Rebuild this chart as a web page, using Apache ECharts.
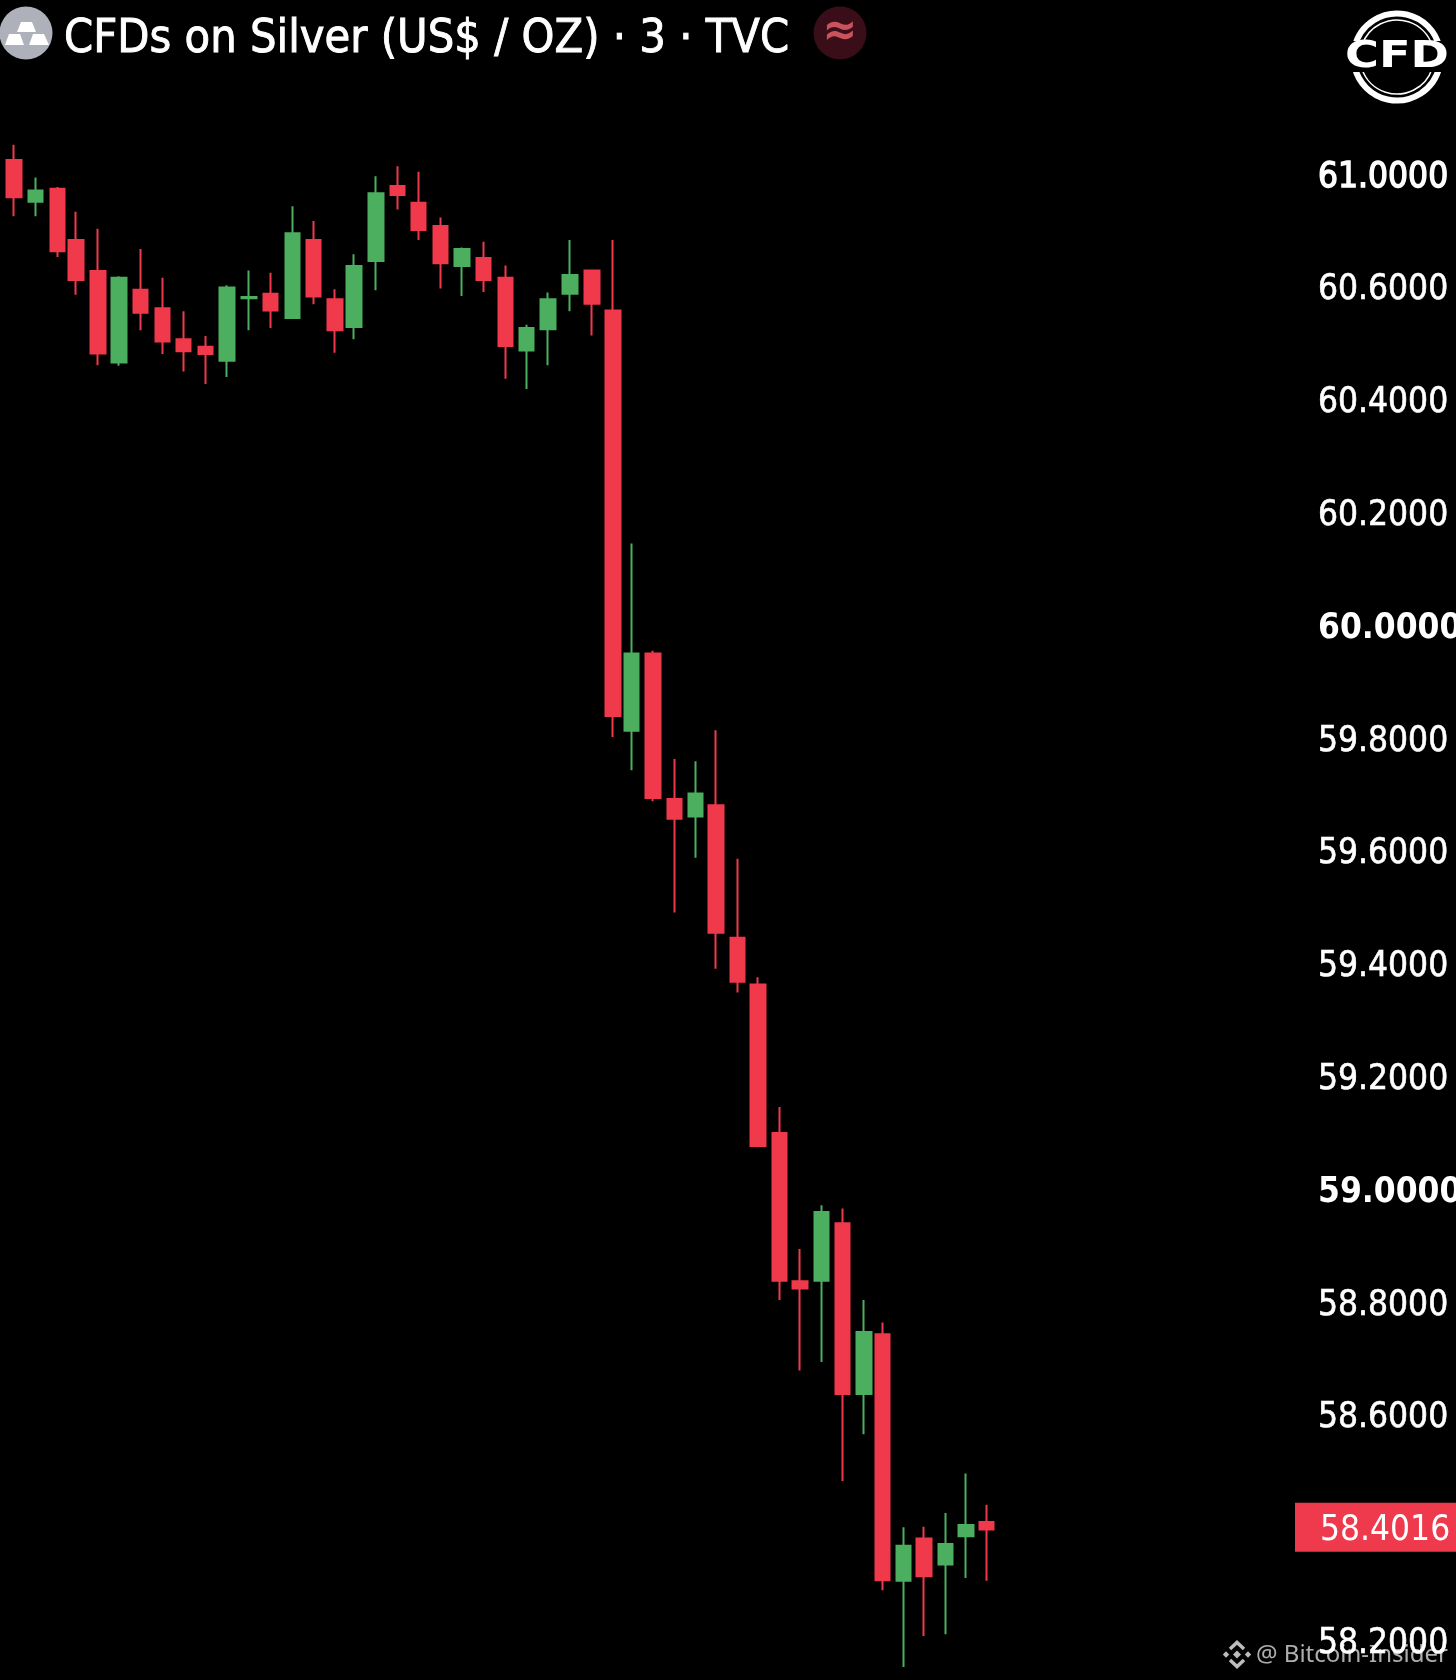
<!DOCTYPE html>
<html><head><meta charset="utf-8">
<style>html,body{margin:0;padding:0;background:#000;overflow:hidden}#c{width:1456px;height:1680px}</style>
<script src="https://cdn.jsdelivr.net/npm/echarts@6/dist/echarts.min.js"></script>
</head><body><div id="c"></div>
<script>
const titleText = 'CFDs on Silver (US$ / OZ) · 3 · TVC';
const lastPrice = 58.4016;
const lastPriceLabel = '58.4016';
const tickValues = [60.8,60.6,60.4,60.2,60.0,59.8,59.6,59.4,59.2,59.0,58.8,58.6,58.2];
const tickLabels = ['61.0000','60.6000','60.4000','60.2000','60.0000','59.8000','59.6000','59.4000','59.2000','59.0000','58.8000','58.6000','58.2000'];
const boldLabels = ['60.0000','59.0000'];
const heavyLabels = ['61.0000'];
const barMinute = [0,3,6.1,8.7,11.8,14.8,17.8,20.9,23.9,27,30,33.1,36.1,39.2,42.2,45.2,47.9,51,54,57,60.1,63.1,66.1,69.2,72.2,75.2,78.3,81.4,84.4,87,90,93,96,98.9,101.9,104.8,107.8,110.7,113.7,116.7,119.7,122.3,125.3,128.2,131.2,134.1,137];
const openP = [60.824,60.750,60.773,60.682,60.627,60.465,60.594,60.561,60.506,60.493,60.468,60.579,60.587,60.544,60.682,60.577,60.528,60.645,60.778,60.748,60.707,60.636,60.650,60.615,60.486,60.524,60.587,60.628,60.557,59.812,59.949,59.691,59.660,59.680,59.445,59.362,59.099,58.836,58.837,58.939,58.636,58.742,58.305,58.380,58.334,58.384,58.409];
const closeP = [60.758,60.770,60.662,60.611,60.481,60.615,60.553,60.502,60.485,60.480,60.598,60.581,60.557,60.694,60.582,60.522,60.636,60.765,60.762,60.700,60.641,60.666,60.611,60.494,60.526,60.577,60.620,60.569,59.838,59.949,59.693,59.656,59.701,59.454,59.367,59.076,58.837,58.823,58.959,58.636,58.746,58.306,58.367,58.313,58.370,58.404,58.396];
const lowP = [60.724,60.724,60.652,60.585,60.460,60.459,60.522,60.480,60.449,60.427,60.439,60.522,60.526,60.544,60.568,60.482,60.506,60.593,60.736,60.682,60.596,60.583,60.590,60.436,60.418,60.460,60.556,60.513,59.801,59.742,59.687,59.490,59.587,59.390,59.348,59.076,58.803,58.678,58.693,58.482,58.565,58.288,58.152,58.207,58.210,58.310,58.305];
const highP = [60.851,60.793,60.776,60.732,60.702,60.618,60.666,60.615,60.556,60.512,60.602,60.628,60.624,60.742,60.716,60.595,60.657,60.795,60.813,60.803,60.722,60.669,60.679,60.637,60.532,60.589,60.682,60.629,60.682,60.144,59.954,59.762,59.758,59.813,59.585,59.375,59.145,58.893,58.971,58.965,58.803,58.763,58.400,58.401,58.425,58.495,58.440];

const RED = '#F0394B', GREEN = '#4CAF5F', FONT = '"DejaVu Sans Condensed","DejaVu Sans",sans-serif';
const candles = barMinute.map((m,i)=>[m,openP[i],closeP[i],lowP[i],highP[i]]);
const chart = echarts.init(document.getElementById('c'),null,{renderer:'canvas'});
chart.setOption({
  animation:false, backgroundColor:'#000',
  grid:{left:14,right:22,top:60.7,bottom:40,containLabel:false,outerBoundsMode:'none'},
  xAxis:{type:'value',min:0,max:200,show:false},
  yAxis:{type:'value',position:'right',min:58.2,max:61,interval:0.2,
    axisLine:{show:false},axisTick:{show:false},splitLine:{show:false},
    axisLabel:{inside:true,align:'left',margin:116,showMinLabel:true,showMaxLabel:true,color:'#fff',fontFamily:FONT,fontSize:35,
      padding:[8,0,0,0],textBorderColor:'#fff',textBorderWidth:0.6,
      formatter:function(v){
        const i = tickValues.findIndex(t=>Math.abs(t-v)<1e-6);
        if(i<0) return '';
        const s = tickLabels[i];
        if(boldLabels.includes(s)) return '{b|'+s+'}';
        if(heavyLabels.includes(s)) return '{h|'+s+'}';
        return s;
      },
      rich:{
        b:{fontFamily:FONT,fontSize:35,fontWeight:'bold',color:'#fff',textBorderWidth:0},
        h:{fontFamily:FONT,fontSize:35,color:'#fff',textBorderColor:'#fff',textBorderWidth:1.3}
      }
    }},
  series:[{type:'candlestick',clip:false,barWidth:15,data:candles,
    itemStyle:{color:GREEN,color0:RED,borderColor:GREEN,borderColor0:RED,borderWidth:2}}]
});
const yTag = chart.convertToPixel({yAxisIndex:0},lastPrice);
const white='#fff', wm='#BDBDBD';
const diamond=(cx,cy,r,fill)=>({type:'polygon',shape:{points:[[cx,cy-r],[cx+r,cy],[cx,cy+r],[cx-r,cy]]},style:{fill}});
chart.setOption({graphic:[
  {type:'circle',shape:{cx:26,cy:33,r:26.5},style:{fill:'#AEB0BA'}},
  {type:'polygon',shape:{points:[[21,22],[32,22],[36,32],[17,32]]},style:{fill:white}},
  {type:'polygon',shape:{points:[[9,34],[20,34],[24,45],[5,45]]},style:{fill:white}},
  {type:'polygon',shape:{points:[[33,34],[44,34],[49,45],[29,45]]},style:{fill:white}},
  {type:'text',style:{x:64,y:40,text:titleText,fill:white,stroke:white,lineWidth:0.9,font:'46.5px '+FONT,textVerticalAlign:'middle',textBaseline:'middle'}},
  {type:'circle',shape:{cx:840,cy:33,r:26.5},style:{fill:'#3A0E18'}},
  {type:'text',style:{x:840,y:33,text:'≈',fill:'#C9525C',font:'bold 46px '+FONT,textAlign:'center',textVerticalAlign:'middle',textBaseline:'middle'}},
  {type:'arc',shape:{cx:1397,cy:57,r:43.5,startAngle:Math.PI*1.07,endAngle:Math.PI*1.93},style:{stroke:white,fill:null,lineWidth:6}},
  {type:'arc',shape:{cx:1397,cy:57,r:43.5,startAngle:Math.PI*0.07,endAngle:Math.PI*0.93},style:{stroke:white,fill:null,lineWidth:6}},
  {type:'arc',shape:{cx:1397,cy:57,r:37,startAngle:Math.PI*1.1,endAngle:Math.PI*1.9},style:{stroke:white,fill:null,lineWidth:1.5}},
  {type:'arc',shape:{cx:1397,cy:57,r:37,startAngle:Math.PI*0.1,endAngle:Math.PI*0.9},style:{stroke:white,fill:null,lineWidth:1.5}},
  {type:'rect',shape:{x:1347,y:41,width:100,height:31},style:{fill:'#000'}},
  {type:'text',x:1397,y:57,scaleX:1.25,style:{x:0,y:0,text:'CFD',fill:white,font:'bold 37px "DejaVu Sans",sans-serif',textAlign:'center',textVerticalAlign:'middle',textBaseline:'middle'}},
  {type:'rect',shape:{x:1295,y:yTag-23.5,width:161,height:49},style:{fill:'#EE3A4C'}},
  {type:'text',style:{x:1320,y:yTag+5,text:lastPriceLabel,fill:white,font:'35px '+FONT,textVerticalAlign:'middle',textBaseline:'middle'}},
  {type:'polyline',shape:{points:[[1230,1649],[1237,1642.5],[1244,1649]]},style:{stroke:wm,fill:null,lineWidth:3.5}},
  {type:'polyline',shape:{points:[[1230,1660],[1237,1666.5],[1244,1660]]},style:{stroke:wm,fill:null,lineWidth:3.5}},
  diamond(1226,1654.5,3.2,wm),diamond(1248,1654.5,3.2,wm),diamond(1237,1654.5,4,wm),
  {type:'text',style:{x:1256,y:1655,text:'@ Bitcoin-Insider',fill:'rgba(205,205,205,0.85)',font:'24px "Noto Sans",sans-serif',textVerticalAlign:'middle',textBaseline:'middle'}}
]});
</script></body></html>
